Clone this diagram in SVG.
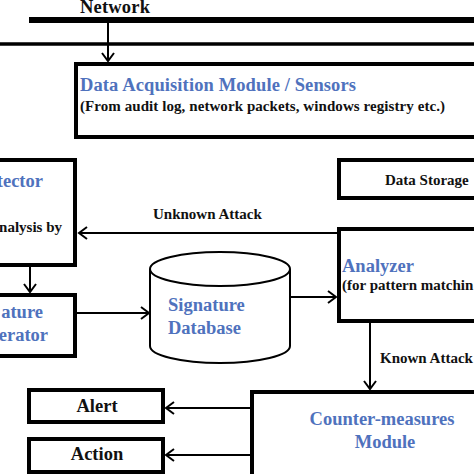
<svg xmlns="http://www.w3.org/2000/svg" width="474" height="474" viewBox="0 0 474 474">
<defs>
<style>
.box{fill:#fff;stroke:#000;stroke-width:4}
.ln{fill:none;stroke:#000;stroke-width:2}
.t{font-family:"Liberation Serif","Times New Roman",serif;font-weight:bold;fill:#111}
.b{fill:#4f72bd}
.h{font-size:18.5px}
.s{font-size:15px}
</style>
<marker id="ah" markerUnits="userSpaceOnUse" markerWidth="16" markerHeight="16" viewBox="-10 -8 12 16" refX="0" refY="0" orient="auto">
<path d="M -8 -6 L 0 0 L -8 6" fill="none" stroke="#000" stroke-width="2"/>
</marker>
</defs>
<rect width="474" height="474" fill="#fff"/>
<g id="connectors">
<line x1="29" y1="20" x2="480" y2="20" stroke="#000" stroke-width="6"/>
<line x1="0" y1="44" x2="480" y2="44" stroke="#000" stroke-width="3.5"/>
<line class="ln" x1="108" y1="22" x2="108" y2="61" marker-end="url(#ah)"/>
<line class="ln" x1="337" y1="233" x2="79" y2="233" marker-end="url(#ah)"/>
<line class="ln" x1="30" y1="267" x2="30" y2="292" marker-end="url(#ah)"/>
<line class="ln" x1="77" y1="313" x2="149" y2="313" marker-end="url(#ah)"/>
<line class="ln" x1="290" y1="297" x2="336" y2="297" marker-end="url(#ah)"/>
<line class="ln" x1="370" y1="323" x2="370" y2="389" marker-end="url(#ah)"/>
<line class="ln" x1="250" y1="408" x2="166" y2="408" marker-end="url(#ah)"/>
<line class="ln" x1="250" y1="455" x2="166" y2="455" marker-end="url(#ah)"/>
</g>
<text class="t h" x="80" y="13" textLength="70">Network</text>
<g id="data-acquisition">
<rect class="box" x="76" y="64" width="420" height="73"/>
<text class="t b h" x="80" y="91" textLength="276">Data Acquisition Module / Sensors</text>
<text class="t s" x="80" y="111" textLength="365">(From audit log, network packets, windows registry etc.)</text>
</g>
<g id="detector">
<rect class="box" x="-10" y="160" width="85" height="105"/>
<text class="t b h" x="43" y="187" text-anchor="end">tector</text>
<text class="t s" x="62" y="232" text-anchor="end">nalysis by</text>
</g>
<g id="generator">
<rect class="box" x="-10" y="295" width="85" height="61"/>
<text class="t b h" x="43" y="318" text-anchor="end">ature</text>
<text class="t b h" x="48" y="341" text-anchor="end">erator</text>
</g>
<g id="data-storage">
<rect class="box" x="339" y="160" width="200" height="38"/>
<text class="t s" x="385" y="185">Data Storage</text>
</g>
<text class="t s" x="153" y="219">Unknown Attack</text>
<g id="signature-db">
<path d="M150 269 L150 346 A70 17 0 0 0 290 346 L290 269" fill="#fff" stroke="#000" stroke-width="2"/>
<ellipse cx="220" cy="269" rx="70" ry="17" fill="#fff" stroke="#000" stroke-width="2"/>
<text class="t b h" x="168" y="311">Signature</text>
<text class="t b h" x="168" y="334">Database</text>
</g>
<g id="analyzer">
<rect class="box" x="339" y="229" width="200" height="92"/>
<text class="t b h" x="342" y="272">Analyzer</text>
<text class="t s" x="342" y="290">(for pattern matchin</text>
</g>
<text class="t s" x="380" y="363">Known Attack</text>
<g id="counter-measures">
<rect class="box" x="252" y="392" width="260" height="100"/>
<text class="t b h" x="382" y="425" text-anchor="middle">Counter-measures</text>
<text class="t b h" x="385" y="448" text-anchor="middle">Module</text>
</g>
<g id="alert">
<rect class="box" x="29" y="390" width="134" height="32"/>
<text class="t h" x="97" y="412" text-anchor="middle">Alert</text>
</g>
<g id="action">
<rect class="box" x="29" y="439" width="134" height="33"/>
<text class="t h" x="97" y="460" text-anchor="middle">Action</text>
</g>
</svg>
